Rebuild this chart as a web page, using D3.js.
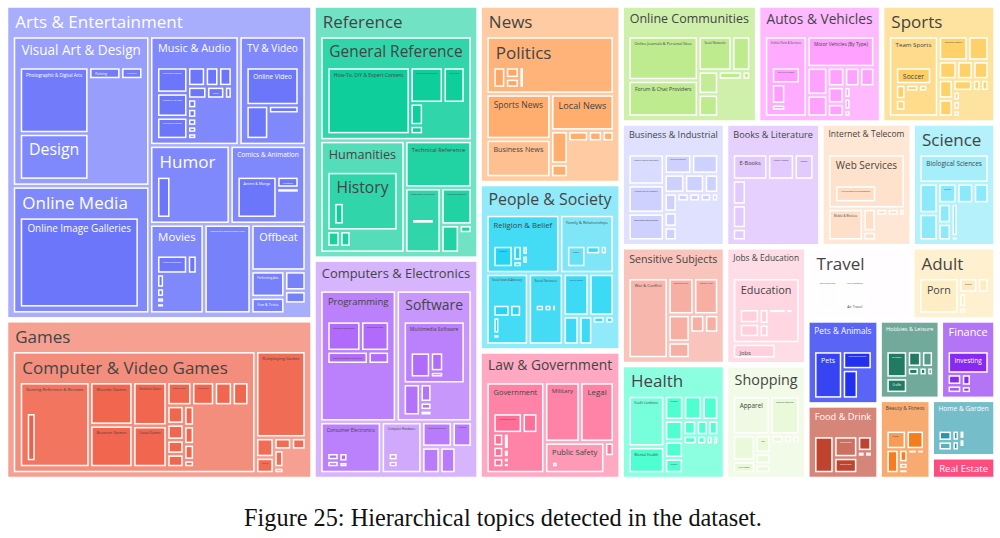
<!DOCTYPE html>
<html>
<head>
<meta charset="utf-8">
<script src="https://cdn.jsdelivr.net/npm/d3@7"></script>
<style>
    html, body { margin: 0; padding: 0; background: #fff; }
    svg { display: block; }
</style>
</head>
<body>
<div id="chart"></div>
<script>
// plotly default colorway, extended 20% lighter / 20% darker for the 2nd and 3rd round
var colorway = ["#636efa", "#EF553B", "#00cc96", "#ab63fa", "#FFA15A", "#19d3f3", "#FF6692", "#B6E880", "#FF97FF", "#FECB52"];

// rows: [label, parent, own value]  (parent "" = top level topic)
var artsEntertainment = [
    ["Arts & Entertainment", "", 2.5],
    ["Visual Art & Design", "Arts & Entertainment", 95.2],
    ["Photographic & Digital Arts", "Visual Art & Design", 80.9],
    ["Design", "Visual Art & Design", 53.3],
    ["Graphic Design", "Design", 3.4],
    ["Painting", "Visual Art & Design", 7],
    ["Architecture", "Visual Art & Design", 4.8],
    ["Online Media", "Arts & Entertainment", 6.1],
    ["Online Image Galleries", "Online Media", 202],
    ["Music & Audio", "Arts & Entertainment", 28],
    ["Music Streams & Downloads", "Music & Audio", 17.2],
    ["Urban & Hip-Hop", "Music & Audio", 15.9],
    ["Music Education & Instruction", "Music & Audio", 14.6],
    ["Rock Music", "Music & Audio", 7.3],
    ["Classical Music", "Music & Audio", 5.5],
    ["Pop Music", "Music & Audio", 5.5],
    ["Music Equipment & Technology", "Music & Audio", 5.1],
    ["Radio", "Music & Audio", 4.8],
    ["Music Reference", "Music & Audio", 2.0],
    ["Jazz & Blues", "Music & Audio", 1.8],
    ["Country Music", "Music & Audio", 1.8],
    ["Dance & Electronic Music", "Music & Audio", 1.5],
    ["Soundtracks", "Music & Audio", 1.3],
    ["World Music", "Music & Audio", 1.2],
    ["Religious Music", "Music & Audio", 1.0],
    ["Folk & Traditional Music", "Music & Audio", 0.6],
    ["Latin Pop", "Music & Audio", 0.5],
    ["Music Videos", "Music & Audio", 0.4],
    ["TV & Video", "Arts & Entertainment", 17.7],
    ["Online Video", "TV & Video", 46.2],
    ["TV Shows & Programs", "TV & Video", 17.3],
    ["TV Networks & Stations", "TV & Video", 5.7],
    ["Humor", "Arts & Entertainment", 59.3],
    ["Funny Pictures & Videos", "Humor", 15.9],
    ["Comics & Animation", "Arts & Entertainment", 15.3],
    ["Anime & Manga", "Comics & Animation", 45.7],
    ["Cartoons", "Comics & Animation", 7],
    ["Comics", "Comics & Animation", 3],
    ["Movies", "Arts & Entertainment", 27.6],
    ["Movie Reference", "Movies", 15.7],
    ["Action & Adventure Films", "Movies", 4.9],
    ["Animated Films", "Movies", 2.9],
    ["Horror Films", "Movies", 1.9],
    ["Comedy Films", "Movies", 1.2],
    ["Documentary Films", "Movies", 1.0],
    ["Drama Films", "Movies", 1.0],
    ["Family Films", "Movies", 0.4],
    ["Movie Memorabilia", "Movies", 0.4],
    ["Science Fiction & Fantasy Films", "Movies", 0.4],
    ["Thriller, Crime & Mystery Films", "Movies", 0.4],
    ["Celebrities & Entertainment News", "Arts & Entertainment", 49.9],
    ["Offbeat", "Arts & Entertainment", 29.5],
    ["Occult & Paranormal", "Offbeat", 1.0],
    ["Performing Arts", "Arts & Entertainment", 10.6],
    ["Fun & Trivia", "Arts & Entertainment", 6.6],
    ["Entertainment Industry", "Arts & Entertainment", 5],
    ["Events & Listings", "Arts & Entertainment", 3.3]
];

var games = [
    ["Games", "", 6.75],
    ["Computer & Video Games", "Games", 69.8],
    ["Gaming Reference & Reviews", "Computer & Video Games", 104],
    ["Video Game Cheats & Hints", "Gaming Reference & Reviews", 21],
    ["Shooter Games", "Computer & Video Games", 38.6],
    ["Browser Games", "Computer & Video Games", 37.7],
    ["Simulation Games", "Computer & Video Games", 31],
    ["Casual Games", "Computer & Video Games", 29.5],
    ["Strategy Games", "Computer & Video Games", 12.2],
    ["Sports Games", "Computer & Video Games", 11.2],
    ["Action & Platform Games", "Computer & Video Games", 8.8],
    ["Adventure Games", "Computer & Video Games", 8.1],
    ["Sandbox Games", "Computer & Video Games", 6.5],
    ["Video Game Emulation", "Computer & Video Games", 5.6],
    ["Driving & Racing Games", "Computer & Video Games", 4.9],
    ["Fighting Games", "Computer & Video Games", 4.7],
    ["Music & Dance Games", "Computer & Video Games", 4.4],
    ["Video Game Mods & Add-Ons", "Computer & Video Games", 4],
    ["Video Game Retailers", "Computer & Video Games", 3.4],
    ["Competitive Video Gaming", "Computer & Video Games", 1.6],
    ["Roleplaying Games", "Games", 59.5],
    ["Board Games", "Games", 4.9],
    ["Gambling", "Games", 4.0],
    ["Card Games", "Games", 2.9],
    ["Word Games", "Games", 2.4],
    ["Puzzles & Brainteasers", "Games", 2.35],
    ["Table Games", "Games", 0.8],
    ["Tile Games", "Games", 0.4]
];

var reference = [
    ["Reference", "", 3.2],
    ["General Reference", "Reference", 25.8],
    ["How-To, DIY & Expert Content", "General Reference", 122.5],
    ["Educational Resources", "General Reference", 26.1],
    ["Public Records", "General Reference", 17.2],
    ["Calculators & Reference Tools", "General Reference", 6.4],
    ["Biographies & Quotations", "General Reference", 2.6],
    ["Forms Guides & Templates", "General Reference", 1.5],
    ["Time & Calendars", "General Reference", 1.2],
    ["Humanities", "Reference", 17.4],
    ["History", "Humanities", 78.8],
    ["Military History", "History", 17],
    ["Philosophy", "Humanities", 4.8],
    ["Classics", "Humanities", 4.1],
    ["Technical Reference", "Reference", 40.5],
    ["Geographic Reference", "Reference", 24.7],
    ["Maps", "Geographic Reference", 5.5],
    ["Language Resources", "Reference", 14.7],
    ["Libraries & Museums", "Reference", 6.6],
    ["Directories & Listings", "Reference", 1.4]
];

var computersElectronics = [
    ["Computers & Electronics", "", 5.6],
    ["Programming", "Computers & Electronics", 71.8],
    ["Scripting Languages", "Programming", 22.8],
    ["Development Tools", "Programming", 19.3],
    ["Java (Programming Language)", "Programming", 11.9],
    ["Windows & .NET", "Programming", 6.1],
    ["Software", "Computers & Electronics", 21.7],
    ["Multimedia Software", "Software", 22.9],
    ["Video Software", "Multimedia Software", 36.5],
    ["Graphics & Animation Software", "Multimedia Software", 18],
    ["Audio & Music Software", "Multimedia Software", 5.7],
    ["Photo Software", "Multimedia Software", 3.5],
    ["Business & Productivity Software", "Software", 12.1],
    ["Operating Systems", "Software", 4.8],
    ["Internet Software", "Software", 2.1],
    ["Educational Software", "Software", 1.4],
    ["Freeware & Shareware", "Software", 1.1],
    ["Software Utilities", "Software", 1.0],
    ["Consumer Electronics", "Computers & Electronics", 20.8],
    ["Audio Equipment", "Consumer Electronics", 5.6],
    ["Camera & Photo Equipment", "Consumer Electronics", 5],
    ["Game Systems & Consoles", "Consumer Electronics", 4.7],
    ["GPS & Navigation", "Consumer Electronics", 3],
    ["TV & Video Equipment", "Consumer Electronics", 2.6],
    ["Computer Hardware", "Computers & Electronics", 14.3],
    ["Computer Components", "Computer Hardware", 4.9],
    ["Computer Memory", "Computer Components", 0.3],
    ["RAM", "Computer Memory", 0.1],
    ["Laptops & Notebooks", "Computer Hardware", 4.6],
    ["Computer Peripherals", "Computer Hardware", 3.3],
    ["Computer Security", "Computers & Electronics", 10.1],
    ["Networking", "Computers & Electronics", 6.6],
    ["Enterprise Technology", "Computers & Electronics", 6.3],
    ["Electronics & Electrical", "Computers & Electronics", 5.5]
];

var news = [
    ["News", "", 21.4],
    ["Politics", "News", 75.6],
    ["Campaigns & Elections", "Politics", 11.4],
    ["Political Polls & Surveys", "Politics", 6.7],
    ["Media Critics & Watchdogs", "Politics", 5.7],
    ["Opinion & Commentary", "Politics", 4.6],
    ["Sports News", "News", 41.1],
    ["Business News", "News", 34.1],
    ["Company News", "Business News", 0.3],
    ["Company Earnings", "Company News", 0.1],
    ["Local News", "News", 32.6],
    ["Gossip & Tabloid News", "News", 8],
    ["Health News", "News", 3.3],
    ["Technology News", "News", 3.1],
    ["Weather", "News", 2.1],
    ["World News", "News", 1.8],
    ["Newspapers", "News", 1.1],
    ["Broadcast & Network News", "News", 0.6]
];

var peopleSociety = [
    ["People & Society", "", 5.5],
    ["Religion & Belief", "People & Society", 23.9],
    ["Christianity", "Religion & Belief", 20.7],
    ["Islam", "Religion & Belief", 6.6],
    ["Buddhism", "Religion & Belief", 2.8],
    ["Judaism", "Religion & Belief", 2.8],
    ["Hinduism", "Religion & Belief", 2.5],
    ["Pagan & Esoteric Traditions", "Religion & Belief", 1],
    ["Astrology & Divination", "Religion & Belief", 1],
    ["Scientology", "Religion & Belief", 0.5],
    ["Family & Relationships", "People & Society", 14.2],
    ["Family", "Family & Relationships", 20.9],
    ["Parenting", "Family", 0.4],
    ["Baby Care", "Parenting", 0.2],
    ["Marriage", "Family & Relationships", 6.9],
    ["Romance", "Family & Relationships", 3.1],
    ["Social Issues & Advocacy", "People & Society", 21],
    ["Human Rights & Liberties", "Social Issues & Advocacy", 9.3],
    ["Discrimination & Identity Relations", "Social Issues & Advocacy", 6.4],
    ["Green Living & Environmental Issues", "Social Issues & Advocacy", 4.9],
    ["Poverty & Hunger", "Social Issues & Advocacy", 1.5],
    ["Social Sciences", "People & Society", 25.7],
    ["Psychology", "Social Sciences", 3.1],
    ["Economics", "Social Sciences", 2.6],
    ["Political Science", "Social Sciences", 1.6],
    ["Anthropology", "Social Sciences", 1.2],
    ["Sociology", "Social Sciences", 0.8],
    ["Archaeology", "Social Sciences", 0.5],
    ["Kids & Teens", "People & Society", 15.5],
    ["Subcultures & Niche Interests", "People & Society", 15.2],
    ["Seniors & Retirement", "People & Society", 6.5],
    ["Ethnic & Identity Groups", "People & Society", 5.6],
    ["Self-Help & Motivational", "People & Society", 1.4],
    ["Charity & Philanthropy", "People & Society", 1.0],
    ["Disabled & Special Needs", "People & Society", 1.0]
];

var lawGovernment = [
    ["Law & Government", "", 2.5],
    ["Government", "Law & Government", 33.6],
    ["Courts & Judiciary", "Government", 20.5],
    ["Embassies & Consulates", "Government", 10.8],
    ["Executive Branch", "Government", 4.7],
    ["Foreign Relations", "Government", 4.1],
    ["Government Contracting & Procurement", "Government", 3.5],
    ["Intelligence & Counterterrorism", "Government", 3],
    ["Legislative Branch", "Government", 1.5],
    ["Lobbying", "Government", 1],
    ["Public Policy", "Government", 0.9],
    ["Military", "Law & Government", 28.5],
    ["Air Force", "Military", 2.1],
    ["Army", "Military", 1.3],
    ["Navy", "Military", 1.2],
    ["Legal", "Law & Government", 25.6],
    ["Legal Services", "Legal", 2.1],
    ["Legal Education", "Legal", 1.9],
    ["Bankruptcy", "Legal", 1],
    ["Intellectual Property", "Legal", 0.8],
    ["Product Liability", "Legal", 0.6],
    ["Public Safety", "Law & Government", 25.3],
    ["Law Enforcement", "Public Safety", 3],
    ["Police", "Law Enforcement", 1],
    ["Social Services", "Law & Government", 2.1]
];

var onlineCommunities = [
    ["Online Communities", "", 19.3],
    ["Online Journals & Personal Sites", "Online Communities", 50.7],
    ["Forum & Chat Providers", "Online Communities", 41.6],
    ["Social Networks", "Online Communities", 19.1],
    ["Dating & Personals", "Online Communities", 10.7],
    ["Photo & Video Sharing", "Online Communities", 6.6],
    ["Photo Sharing", "Photo & Video Sharing", 1],
    ["Blogging Resources & Services", "Online Communities", 7.4],
    ["File Sharing & Hosting", "Online Communities", 3.4],
    ["Virtual Worlds", "Online Communities", 1.2]
];

var autosVehicles = [
    ["Autos & Vehicles", "", 11.8],
    ["Vehicle Parts & Services", "Autos & Vehicles", 17.9],
    ["Vehicle Parts & Accessories", "Vehicle Parts & Services", 21.6],
    ["Vehicle Repair & Maintenance", "Vehicle Parts & Services", 12.9],
    ["Auto Insurance", "Vehicle Parts & Services", 4.3],
    ["Motor Vehicles (By Type)", "Autos & Vehicles", 34.7],
    ["Vehicle Shopping", "Autos & Vehicles", 9.3],
    ["Vehicle Brands", "Autos & Vehicles", 7.3],
    ["Classic Vehicles", "Autos & Vehicles", 5.4],
    ["Custom & Performance Vehicles", "Autos & Vehicles", 4.8],
    ["Vehicle Codes & Driving Laws", "Autos & Vehicles", 4.7],
    ["Vehicle Shows", "Autos & Vehicles", 4.6],
    ["Hybrid & Alternative Vehicles", "Autos & Vehicles", 3.6],
    ["Campers & RVs", "Autos & Vehicles", 1.3],
    ["Boats & Watercraft", "Autos & Vehicles", 1.3],
    ["Personal Aircraft", "Autos & Vehicles", 0.8]
];

var sports = [
    ["Sports", "", 12.3],
    ["Team Sports", "Sports", 20.9],
    ["Soccer", "Team Sports", 26.7],
    ["Basketball", "Team Sports", 6.5],
    ["American Football", "Team Sports", 4.3],
    ["NFL", "American Football", 0.7],
    ["Baseball", "Team Sports", 4],
    ["Cricket", "Team Sports", 2.8],
    ["Hockey", "Team Sports", 1.2],
    ["Individual Sports", "Sports", 12.2],
    ["Sports Coaching & Training", "Sports", 8.7],
    ["Combat Sports", "Sports", 5.7],
    ["Extreme Sports", "Sports", 5],
    ["Motor Sports", "Sports", 4.9],
    ["Fantasy Sports", "Sports", 4.7],
    ["Sporting Goods", "Sports", 4.4],
    ["Water Sports", "Sports", 3.8],
    ["Winter Sports", "Sports", 1.6],
    ["Sports Fan Gear & Apparel", "Sports", 1.6],
    ["College Sports", "Sports", 1.1],
    ["Animal Sports", "Sports", 1.1],
    ["Sports Memorabilia", "Sports", 0.8]
];

var businessIndustrial = [
    ["Business & Industrial", "", 25],
    ["Industrial Materials & Equipment", "Business & Industrial", 17.6],
    ["Heavy Machinery", "Industrial Materials & Equipment", 0.5],
    ["Construction Equipment", "Heavy Machinery", 0.3],
    ["Agriculture & Forestry", "Business & Industrial", 16.8],
    ["Business Operations", "Business & Industrial", 16.4],
    ["Advertising & Marketing", "Business & Industrial", 9.1],
    ["Construction & Maintenance", "Business & Industrial", 8.9],
    ["Energy & Utilities", "Business & Industrial", 6.4],
    ["Manufacturing", "Business & Industrial", 6.2],
    ["Transportation & Logistics", "Business & Industrial", 4.4],
    ["Business Services", "Business & Industrial", 4],
    ["Retail Trade", "Business & Industrial", 3.2],
    ["Aerospace & Defense", "Business & Industrial", 2.9],
    ["Chemicals Industry", "Business & Industrial", 1.7],
    ["Hospitality Industry", "Business & Industrial", 1.6],
    ["Metals & Mining", "Business & Industrial", 1.6],
    ["Pharmaceuticals & Biotech", "Business & Industrial", 1],
    ["Printing & Publishing", "Business & Industrial", 0.8],
    ["Small Business", "Business & Industrial", 0.5],
    ["Textiles & Nonwovens", "Business & Industrial", 0.3]
];

var sensitiveSubjects = [
    ["Sensitive Subjects", "", 12.2],
    ["War & Conflict", "Sensitive Subjects", 52.5],
    ["Military Conflicts", "War & Conflict", 1.3],
    ["Terrorism", "War & Conflict", 0.6],
    ["Recreational Drugs", "Sensitive Subjects", 15.9],
    ["Violence & Abuse", "Sensitive Subjects", 15.4],
    ["Firearms & Weapons", "Sensitive Subjects", 10.1],
    ["Accidents & Disasters", "Sensitive Subjects", 6.1],
    ["Death & Tragedy", "Sensitive Subjects", 4.5],
    ["Self-Harm", "Sensitive Subjects", 4.3]
];

var health = [
    ["Health", "", 15.2],
    ["Health Conditions", "Health", 30.3],
    ["Infectious Diseases", "Health Conditions", 0.5],
    ["Vaccines", "Infectious Diseases", 0.3],
    ["Heart & Hypertension", "Health Conditions", 0.7],
    ["Mental Health", "Health", 16.6],
    ["Nutrition", "Health", 8],
    ["Medical Facilities & Services", "Health", 7.8],
    ["Women's Health", "Health", 6.9],
    ["Men's Health", "Health", 6.7],
    ["Reproductive Health", "Health", 5.4],
    ["Pharmacy", "Health", 4.9],
    ["Public Health", "Health", 3.4],
    ["Alternative & Natural Medicine", "Health", 3],
    ["Aging & Geriatrics", "Health", 2.7],
    ["Oral & Dental Care", "Health", 2.1],
    ["Vision Care", "Health", 1.5],
    ["Nursing", "Health", 1],
    ["Substance Abuse", "Health", 0.9],
    ["Medical Devices & Equipment", "Health", 0.6],
    ["Health Education & Medical Training", "Health", 0.6],
    ["Health Foundations & Medical Research", "Health", 0.5],
    ["Occupational Health & Safety", "Health", 0.4]
];

var booksLiterature = [
    ["Books & Literature", "", 68.7],
    ["E-Books", "Books & Literature", 15.3],
    ["Literary Classics", "Books & Literature", 11.6],
    ["Poetry", "Books & Literature", 8.5],
    ["Fan Fiction", "Books & Literature", 5.7],
    ["Children's Literature", "Books & Literature", 5.4],
    ["Writers Resources", "Books & Literature", 2.8]
];

var internetTelecom = [
    ["Internet & Telecom", "", 12.1],
    ["Web Services", "Internet & Telecom", 22.9],
    ["Web Design & Development", "Web Services", 46.8],
    ["Affiliate Programs", "Web Services", 1.5],
    ["Mobile & Wireless", "Internet & Telecom", 19.1],
    ["Email & Messaging", "Internet & Telecom", 5],
    ["Search Engines", "Internet & Telecom", 2],
    ["Service Providers", "Internet & Telecom", 1.4],
    ["Teleconferencing", "Internet & Telecom", 1.4],
    ["Web Portals", "Internet & Telecom", 0.8]
];

var science = [
    ["Science", "", 19.7],
    ["Biological Sciences", "Science", 34.1],
    ["Genetics", "Biological Sciences", 0.5],
    ["Genomics", "Genetics", 0.3],
    ["Earth Sciences", "Science", 9.8],
    ["Ecology & Environment", "Science", 8.8],
    ["Physics", "Science", 6.6],
    ["Chemistry", "Science", 5.8],
    ["Astronomy", "Science", 5.4],
    ["Mathematics", "Science", 4.5],
    ["Computer Science", "Science", 3.9],
    ["Engineering & Technology", "Science", 3.8],
    ["Scientific Equipment", "Science", 0.5]
];

var jobsEducation = [
    ["Jobs & Education", "", 6.5],
    ["Education", "Jobs & Education", 29.5],
    ["Colleges & Universities", "Education", 14.9],
    ["Standardized & Admissions Tests", "Education", 14.1],
    ["Primary & Secondary Schooling (K-12)", "Education", 7.4],
    ["Vocational & Continuing Education", "Education", 6.3],
    ["Distance Learning", "Education", 4],
    ["Homeschooling", "Education", 1.6],
    ["Jobs", "Jobs & Education", 11.7]
];

var shopping = [
    ["Shopping", "", 15.5],
    ["Apparel", "Shopping", 25.3],
    ["Footwear", "Apparel", 0.5],
    ["Athletic Shoes", "Footwear", 0.3],
    ["Consumer Resources", "Shopping", 20.6],
    ["Gifts & Special Event Items", "Shopping", 10.7],
    ["Luxury Goods", "Shopping", 5.1],
    ["Toys", "Shopping", 5.1],
    ["Auctions", "Shopping", 3.1],
    ["Classifieds", "Shopping", 2.5],
    ["Antiques & Collectibles", "Shopping", 2],
    ["Tobacco Products", "Shopping", 1.3],
    ["Shopping Portals", "Shopping", 1.2]
];

var travel = [
    ["Travel", "", 30.3],
    ["Tourist Destinations", "Travel", 22.9],
    ["Hotels & Accommodations", "Travel", 14.2],
    ["Air Travel", "Travel", 9.4]
];

var adult = [
    ["Adult", "", 10.3],
    ["Porn", "Adult", 34.8],
    ["Adult Videos", "Porn", 0.5],
    ["Erotica", "Adult", 6.9],
    ["Adult Dating", "Adult", 4.2],
    ["Adult Products", "Adult", 2.6],
    ["Adult Entertainment", "Adult", 1.2],
    ["Adult Chat", "Adult", 1.2]
];

var petsAnimals = [
    ["Pets & Animals", "", 8.9],
    ["Pets", "Pets & Animals", 29.7],
    ["Dogs", "Pets", 0.5],
    ["Animal Products & Services", "Pets & Animals", 12.1],
    ["Wildlife", "Pets & Animals", 10.2]
];

var hobbiesLeisure = [
    ["Hobbies & Leisure", "", 11.1],
    ["Outdoors", "Hobbies & Leisure", 14],
    ["Crafts", "Hobbies & Leisure", 8],
    ["Special Occasions", "Hobbies & Leisure", 5.6],
    ["Clubs & Organizations", "Hobbies & Leisure", 4.0],
    ["Youth Organizations & Resources", "Clubs & Organizations", 0.4],
    ["Scouting", "Youth Organizations & Resources", 0.2],
    ["Radio Control & Modeling", "Hobbies & Leisure", 2.4],
    ["Water Activities", "Hobbies & Leisure", 1.6],
    ["Merit Prizes & Contests", "Hobbies & Leisure", 1.3]
];

var finance = [
    ["Finance", "", 7],
    ["Investing", "Finance", 24],
    ["Banking", "Finance", 4],
    ["Insurance", "Finance", 2.3],
    ["Health Insurance", "Insurance", 0.4],
    ["Dental Insurance", "Health Insurance", 0.2],
    ["Credit & Lending", "Finance", 2.9],
    ["Accounting & Auditing", "Finance", 1.8],
    ["Financial Planning & Management", "Finance", 1.6]
];

var foodDrink = [
    ["Food & Drink", "", 5.9],
    ["Cooking & Recipes", "Food & Drink", 18.6],
    ["Beverages", "Food & Drink", 11.9],
    ["Coffee & Tea", "Beverages", 0.5],
    ["Tea", "Coffee & Tea", 0.2],
    ["Restaurants", "Food & Drink", 9.3],
    ["Food & Grocery Retailers", "Food & Drink", 5.5],
    ["Food", "Food & Drink", 1],
    ["Food & Grocery Delivery", "Food & Drink", 1]
];

var beautyFitness = [
    ["Beauty & Fitness", "", 8.2],
    ["Fitness", "Beauty & Fitness", 9.2],
    ["Yoga & Pilates", "Fitness", 0.4],
    ["Yoga", "Yoga & Pilates", 0.2],
    ["Face & Body Care", "Beauty & Fitness", 8.7],
    ["Hair Care", "Beauty & Fitness", 7.8],
    ["Fashion & Style", "Beauty & Fitness", 3],
    ["Beauty Services & Spas", "Beauty & Fitness", 1.5],
    ["Cosmetic Procedures", "Beauty & Fitness", 1],
    ["Body Art", "Beauty & Fitness", 1],
    ["Weight Loss", "Beauty & Fitness", 0.8]
];

var homeGarden = [
    ["Home & Garden", "", 16.7],
    ["Gardening & Landscaping", "Home & Garden", 5.4],
    ["Home Improvement", "Home & Garden", 4.2],
    ["Plumbing", "Home Improvement", 0.4],
    ["Water Heaters", "Plumbing", 0.2],
    ["Home Furnishings", "Home & Garden", 2.7],
    ["Kitchen & Dining", "Home & Garden", 2.5],
    ["Bed & Bath", "Home & Garden", 1.7],
    ["Domestic Services", "Home & Garden", 1.6],
    ["Home Appliances", "Home & Garden", 0.7],
    ["HVAC & Climate Control", "Home & Garden", 0.6],
    ["Yard & Patio", "Home & Garden", 0.5]
];

var realEstate = [
    ["Real Estate", "", 14.7]
];

var topicTables = [artsEntertainment, games, reference, computersElectronics, news, peopleSociety,
    lawGovernment, onlineCommunities, autosVehicles, sports, businessIndustrial, sensitiveSubjects,
    health, booksLiterature, internetTelecom, science, jobsEducation, shopping, travel, adult,
    petsAnimals, hobbiesLeisure, finance, foodDrink, beautyFitness, homeGarden, realEstate];

var caption = "Figure 25: Hierarchical topics detected in the dataset.";

var W = 1000, H = 538;
var svg = d3.select("#chart").append("svg").attr("width", W).attr("height", H);

// flatten to id / parentId rows
var rows = [{id: "root", parentId: null, name: "", value: 0}];
topicTables.forEach(function(table){
    var top = table[0][0];
    table.forEach(function(r){
        var id = r[1] === "" ? r[0] : top + "|" + r[0];
        var pid = r[1] === "" ? "root" : (r[1] === top ? top : top + "|" + r[1]);
        rows.push({id: id, parentId: pid, name: r[0], value: r[2]});
    });
});

var root = d3.stratify().id(function(d){ return d.id; }).parentId(function(d){ return d.parentId; })(rows);
root.sum(function(d){ return d.value; }).sort(function(a, b){ return b.value - a.value; });

var sidePad = function(d){ return d.depth === 0 ? 0 : 7; };
d3.treemap()
    .tile(d3.treemapSquarify.ratio(1))
    .size([986.5, 470.5])
    .paddingInner(4)
    .paddingTop(function(d){ return d.depth === 0 ? 0 : Math.min(31, Math.max(0, d.y1 - d.y0 - 8)); })
    .paddingLeft(sidePad).paddingRight(sidePad)
    .paddingBottom(function(d){ return d.depth === 0 ? 0 : 6; })(root);

// colours: top level cycles the colorway, then lighter, then darker
root.children.forEach(function(top, i){
    var c = d3.hsl(colorway[i % 10]);
    if (i >= 20) c.l = Math.max(0, c.l - 0.2);
    else if (i >= 10) c.l = Math.min(1, c.l + 0.2);
    var base = d3.rgb(c);
    var bright = (base.r * 299 + base.g * 587 + base.b * 114) / 1000;
    var txt = bright < 128 ? "#ffffff" : "#444444";
    top.each(function(n){ n.base = base; n.txt = txt; });
});

function mix(a, b, t){
    return d3.rgb(a.r + (b.r - a.r) * t, a.g + (b.g - a.g) * t, a.b + (b.b - a.b) * t);
}
// depth fade towards the background, deeper subtrees fade more
function fadedFill(base, n){
    var c = d3.rgb(base);
    var faded = mix(c, d3.rgb(255, 255, 255), 0.75);
    for (var i = 0; i < n; i++) c = mix(c, faded, 0.5 * i / n);
    return c.formatHex();
}

var g = svg.append("g").attr("transform", "translate(7.5,7)");
var nodes = root.descendants().filter(function(d){
    return d.depth > 0 && d.x1 - d.x0 > 0.3 && d.y1 - d.y0 > 0.3;
});

g.selectAll("rect.tile").data(nodes).join("rect")
    .attr("class", "tile")
    .attr("x", function(d){ return d.x0; })
    .attr("y", function(d){ return d.y0; })
    .attr("width", function(d){ return d.x1 - d.x0; })
    .attr("height", function(d){ return d.y1 - d.y0; })
    .attr("fill", function(d){ return d.children ? fadedFill(d.base, d.height + 1) : d.base.formatHex(); })
    .attr("fill-opacity", function(d){ return d.children ? 1 : 0.7; })
    .attr("stroke", "#fff")
    .attr("stroke-width", 1.5);

// labels are shrunk to fit the tile width
var ctx = document.createElement("canvas").getContext("2d");
ctx.font = "100px 'Open Sans'";
function unitWidth(s){ return ctx.measureText(s).width / 100; }

var labels = [];
nodes.forEach(function(d){
    var w = d.x1 - d.x0, h = d.y1 - d.y0;
    var fs = Math.min(17, (w - 7) / (unitWidth(d.data.name) + 0.5));
    if (d.children) fs = Math.min(fs, (Math.min(31, h - 8) - 5) / 1.05);
    else fs = Math.min(fs, (h - 5) / 1.1);
    if (fs < 1.3) return;
    labels.push({d: d, fs: fs});
});

g.selectAll("text.lbl").data(labels).join("text")
    .attr("class", "lbl")
    .attr("x", function(l){ return l.d.x0 + 3.5 + 0.25 * l.fs; })
    .attr("y", function(l){ return l.d.y0 + 3 + 1.05 * l.fs; })
    .style("font-family", "'Open Sans', sans-serif")
    .style("font-size", function(l){ return l.fs + "px"; })
    .attr("fill", function(l){ return l.d.txt; })
    .text(function(l){ return l.d.data.name; });

ctx.font = "100px 'Liberation Serif'";
var capSize = 518 / (ctx.measureText(caption).width / 100);
svg.append("text")
    .attr("x", 503)
    .attr("y", 526)
    .attr("text-anchor", "middle")
    .style("font-family", "'Liberation Serif', 'DejaVu Serif', serif")
    .style("font-size", capSize + "px")
    .attr("fill", "#111")
    .text(caption);
</script>
</body>
</html>
